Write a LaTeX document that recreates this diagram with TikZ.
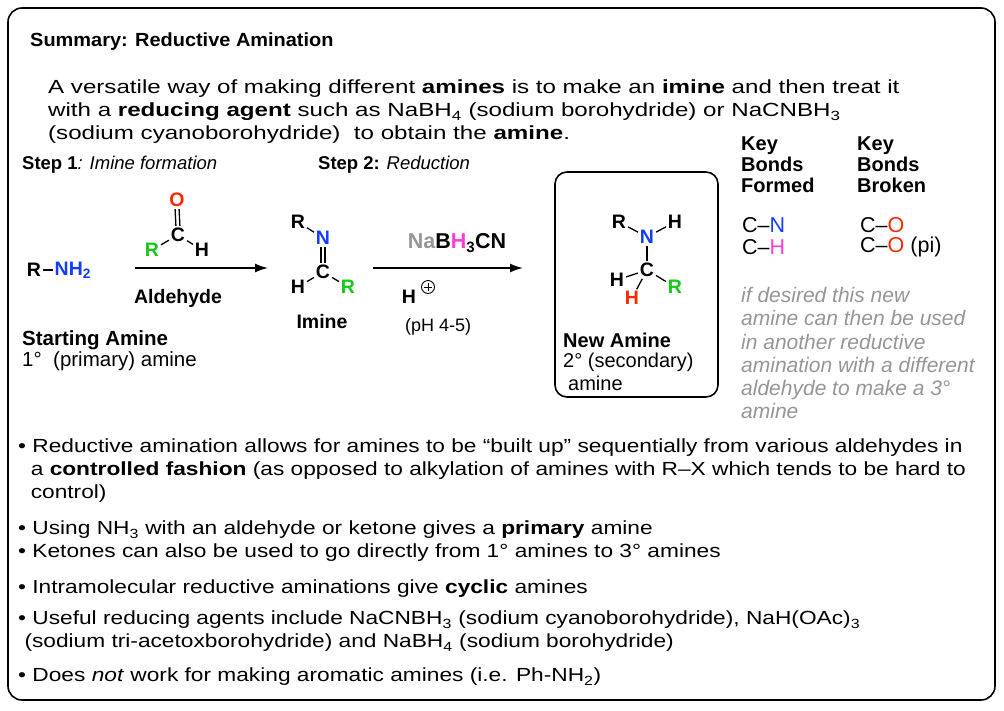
\documentclass[tikz,border=0pt]{standalone}
\usepackage{fontspec}
\setmainfont{Liberation Sans}
\usetikzlibrary{arrows.meta}
\newcommand{\hs}[1]{\scalebox{1.27}[1]{#1}}
\newcommand{\bs}[1]{\scalebox{1.195}[1]{#1}}
\newcommand{\sbx}[1]{\textsubscript{#1}}
\begin{document}
\begin{tikzpicture}[x=1pt,y=-1pt,
 t/.style={anchor=west,inner sep=0pt,font=\fontsize{19}{22}\selectfont},
 m/.style={anchor=west,inner sep=0pt,font=\fontsize{20.5}{22}\selectfont},
 atm/.style={inner sep=0.5pt,font=\fontsize{19.5}{22}\selectfont\bfseries},
 bd/.style={line width=1.3pt,shorten <=1.5pt,shorten >=1.5pt},
 arr/.style={line width=1.6pt,-{Latex[length=13pt,width=9pt]}}]
\definecolor{nb}{RGB}{20,60,255}\definecolor{ox}{RGB}{250,40,0}
\definecolor{gr}{RGB}{20,200,20}\definecolor{pk}{RGB}{250,60,220}
\definecolor{gy}{RGB}{150,150,150}
\useasboundingbox (0,0) rectangle (1004,710);
\draw[line width=1.6pt,rounded corners=14pt] (8,8) rectangle (995,700);
\node[t,font=\fontsize{19}{20}\selectfont\bfseries] (title) at (30,42) {\scalebox{1.05}[1]{Summary: Reductive Amination}};
\node[t] (p1) at (48,89) {\hs{A versatile way of making different \textbf{amines} is to make an \textbf{imine} and then treat it}};
\node[t] (p2) at (48,112) {\hs{with a \textbf{reducing agent} such as NaBH\sbx{4} (sodium borohydride) or NaCNBH\sbx{3}}};
\node[t] (p3) at (48,135) {\hs{(sodium cyanoborohydride)\ \ to obtain the \textbf{amine}.}};
\node[t,font=\fontsize{18.5}{20}\selectfont] (s1) at (22,165) {\textbf{Step 1}\textit{: Imine formation}};
\node[t,font=\fontsize{18.5}{20}\selectfont] (s2) at (318,165) {\textbf{Step 2:} \textit{Reduction}};
% starting amine
\node[atm] (r0) at (34,270) {R};
\node[atm,text=nb,anchor=west] (n0) at (54,270) {NH\sbx{2}};
\draw[bd] (r0) -- (n0);
\node[m,font=\fontsize{20.5}{20}\selectfont\bfseries] (sa) at (22,340) {Starting Amine};
\node[m] (sa2) at (22,361) {1°\ \ (primary) amine};
% aldehyde
\node[atm,text=ox] (o1) at (177,200) {O};
\node[atm] (c1) at (178,235) {C};
\node[atm,text=gr] (r1) at (152,250) {R};
\node[atm] (h1) at (202,250) {H};
\draw[bd] ([xshift=-2pt]o1.south) -- ([xshift=-2pt]c1.north);
\draw[bd] ([xshift=2pt]o1.south) -- ([xshift=2pt]c1.north);
\draw[bd] (r1) -- (c1); \draw[bd] (c1) -- (h1);
\coordinate (a1s) at (135,268); \coordinate (a1e) at (268,268);
\draw[arr] (a1s) -- (a1e);
\node[atm] (ald) at (178,298) {Aldehyde};
% imine
\node[atm] (r2) at (298,222) {R};
\node[atm,text=nb] (n2) at (323,238) {N};
\node[atm] (c2) at (323,272) {C};
\node[atm] (h2) at (298,287) {H};
\node[atm,text=gr] (r3) at (348,287) {R};
\draw[bd] (r2) -- (n2);
\draw[bd] ([xshift=-2pt]n2.south) -- ([xshift=-2pt]c2.north);
\draw[bd] ([xshift=2pt]n2.south) -- ([xshift=2pt]c2.north);
\draw[bd] (h2) -- (c2); \draw[bd] (c2) -- (r3);
\node[atm] (imn) at (322,322) {Imine};
\coordinate (a2s) at (373,268); \coordinate (a2e) at (523,268);
\draw[arr] (a2s) -- (a2e);
\node[atm,font=\fontsize{21.5}{22}\selectfont\bfseries] (re) at (457,243) {\textcolor{gy}{Na}B\textcolor{pk}{H}\sbx{3}CN};
\node[atm] (hp) at (409,297) {H};
\node[circle,draw,line width=0.9pt,minimum size=13pt,inner sep=0pt] (pl) at (428,287) {};
\draw[line width=0.9pt] ([xshift=-4pt]pl.center) -- ([xshift=4pt]pl.center) ([yshift=-4pt]pl.center) -- ([yshift=4pt]pl.center);
\node[t,font=\fontsize{18}{20}\selectfont] (ph) at (405,327) {(pH 4-5)};
% product box
\draw[line width=1.6pt,rounded corners=12pt] (555,172) rectangle (718,397);
\node[atm] (r4) at (619,222) {R};
\node[atm,text=nb] (n4) at (647,237) {N};
\node[atm] (h4) at (675,222) {H};
\node[atm] (c4) at (647,270) {C};
\node[atm] (h5) at (617,280) {H};
\node[atm,text=ox] (h6) at (632,298) {H};
\node[atm,text=gr] (r5) at (675,287) {R};
\draw[bd] (r4) -- (n4); \draw[bd] (n4) -- (h4); \draw[bd] (n4) -- (c4);
\draw[bd] (h5) -- (c4); \draw[bd] (h6) -- (c4); \draw[bd] (c4) -- (r5);
\node[m,font=\fontsize{20}{20}\selectfont\bfseries] (na) at (563,340) {New Amine};
\node[m,font=\fontsize{20}{20}\selectfont] (na2) at (563,362) {2° (secondary)};
\node[m,font=\fontsize{20}{20}\selectfont] (na3) at (568,383) {amine};
% key bonds
\node[t,font=\fontsize{20}{21}\selectfont\bfseries,align=left,anchor=north west] (kf) at (741,137) {Key\\Bonds\\Formed};
\node[t,font=\fontsize{20}{21}\selectfont\bfseries,align=left,anchor=north west] (kb) at (857,137) {Key\\Bonds\\Broken};
\node[m,font=\fontsize{21.5}{22}\selectfont] (b1) at (742,225) {C–\textcolor{nb}{N}};
\node[m,font=\fontsize{21.5}{22}\selectfont] (b2) at (742,247) {C–\textcolor{pk}{H}};
\node[m,font=\fontsize{21.5}{22}\selectfont] (b3) at (860,225) {C–\textcolor{ox}{O}};
\node[m,font=\fontsize{21.5}{22}\selectfont] (b4) at (860,247) {C–\textcolor{ox}{O} (pi)};
\node[t,font=\fontsize{21}{23.3}\selectfont\itshape,text=gy,align=left,anchor=north west] (gt) at (741,287) {if desired this new\\amine can then be used\\in another reductive\\amination with a different\\aldehyde to make a 3°\\amine};
% bullets
\node[t] (l1) at (18,448) {\bs{• Reductive amination allows for amines to be “built up” sequentially from various aldehydes in}};
\node[t] (l2) at (18,471) {\bs{\ \ a \textbf{controlled fashion} (as opposed to alkylation of amines with R–X which tends to be hard to}};
\node[t] (l3) at (18,494) {\bs{\ \ control)}};
\node[t] (l4) at (18,530) {\bs{• Using NH\sbx{3} with an aldehyde or ketone gives a \textbf{primary} amine}};
\node[t] (l5) at (18,553) {\bs{• Ketones can also be used to go directly from 1° amines to 3° amines}};
\node[t] (l6) at (18,589) {\bs{• Intramolecular reductive aminations give \textbf{cyclic} amines}};
\node[t] (l7) at (18,620) {\bs{• Useful reducing agents include NaCNBH\sbx{3} (sodium cyanoborohydride), NaH(OAc)\sbx{3}}};
\node[t] (l8) at (18,643) {\bs{\ (sodium tri-acetoxborohydride) and NaBH\sbx{4} (sodium borohydride)}};
\node[t] (l9) at (18,677) {\bs{• Does \textit{not} work for making aromatic amines (i.e. Ph-NH\sbx{2})}};
\end{tikzpicture}
\end{document}
